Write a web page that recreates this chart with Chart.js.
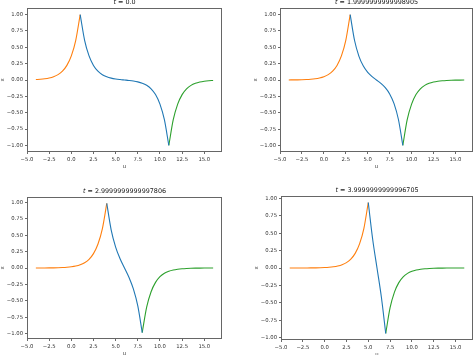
<!DOCTYPE html>
<html><head><meta charset="utf-8">
<script src="https://cdn.jsdelivr.net/npm/chart.js@4/dist/chart.umd.min.js"></script>
<style>
html,body{margin:0;padding:0;background:#fff;}
#wrap{position:relative;width:474px;height:355px;overflow:hidden;background:#fff;}
canvas{position:absolute;left:0;top:0;}
</style></head><body>
<div id="wrap">
<canvas id="c0" width="474" height="355"></canvas>
<canvas id="c1" width="474" height="355"></canvas>
<canvas id="c2" width="474" height="355"></canvas>
<canvas id="c3" width="474" height="355"></canvas>
</div>
<script>
// ---- data ----
const xGrid = [-4,-3.5,-3,-2.5,-2,-1.5,-1,-0.5,0,0.5,1,1.5,2,2.5,3,3.5,4,4.5,5,5.5,6,6.5,7,7.5,8,8.5,9,9.5,10,10.5,11,11.5,12,12.5,13,13.5,14,14.5,15,15.5,16];
const u_t0 = [0.0067,0.0111,0.0183,0.0302,0.0498,0.0821,0.1353,0.2231,0.3679,0.6065,1.0,
  0.6065,0.3678,0.2229,0.1350,0.0815,0.0489,0.0287,0.0158,0.0070,0.0,-0.0070,-0.0158,-0.0287,-0.0489,-0.0815,-0.1350,-0.2229,-0.3678,-0.6065,-1.0,
  -0.6065,-0.3679,-0.2231,-0.1353,-0.0821,-0.0498,-0.0302,-0.0183,-0.0111,-0.0067];
const u_t2 = [0.0009,0.0015,0.0025,0.0041,0.0067,0.0111,0.0183,0.0302,0.0496,0.0819,0.1350,0.2225,0.3670,0.6050,0.998,
  0.6024,0.3612,0.2120,0.1170,0.0519,0.0,-0.0519,-0.1170,-0.2120,-0.3612,-0.6024,-0.998,
  -0.6050,-0.3670,-0.2225,-0.1350,-0.0819,-0.0496,-0.0302,-0.0183,-0.0111,-0.0067,-0.0041,-0.0025,-0.0015,-0.0009];
const u_t3 = [0.0003,0.0006,0.0009,0.0015,0.0025,0.0041,0.0066,0.0109,0.0180,0.0296,0.0489,0.0806,0.1328,0.2190,0.3612,0.5954,0.9817,
  0.5763,0.3181,0.1410,0.0,-0.1410,-0.3181,-0.5763,-0.9817,
  -0.5954,-0.3612,-0.2190,-0.1328,-0.0806,-0.0489,-0.0296,-0.0180,-0.0109,-0.0066,-0.0041,-0.0025,-0.0015,-0.0009,-0.0006,-0.0003];
const u_t4 = [0.0001,0.0002,0.0003,0.0005,0.0009,0.0014,0.0023,0.0038,0.0063,0.0104,0.0172,0.0284,0.0468,0.0772,0.1272,0.2097,0.3458,0.5701,0.9400,
  0.4168,0.0,-0.4168,-0.9400,
  -0.5701,-0.3458,-0.2097,-0.1272,-0.0772,-0.0468,-0.0284,-0.0172,-0.0104,-0.0063,-0.0038,-0.0023,-0.0014,-0.0009,-0.0005,-0.0003,-0.0002,-0.0001];
const seriesList = [u_t0, u_t2, u_t3, u_t4];
const peakX = [1, 3, 4, 5];
const troughX = [11, 9, 8, 7];
const timeLabels = ["0.0", "1.9999999999998905", "2.9999999999997806", "3.9999999999996705"];
const xTicks = [-5, -2.5, 0, 2.5, 5, 7.5, 10, 12.5, 15];
const yTicks = [-1, -0.75, -0.5, -0.25, 0, 0.25, 0.5, 0.75, 1];
const xRange = [-5, 17];
const yHalfRange = [1.1, 1.098, 1.08, 1.034];

// ---- layout / style ----
const boxes = [[27,8,222,152],[280,8,473,152],[27,197,222,339],[281,196,473,340]];
const YW = 26, XH = 14, W = 474, H = 355;
const C_BLUE = '#1f77b4', C_ORANGE = '#ff7f0e', C_GREEN = '#2ca02c';
const FONT = '"DejaVu Sans", sans-serif';
const minus = s => s.replace('-', '\u2212');

function seg(ys, lo, hi) {
  const pts = [];
  xGrid.forEach((x, i) => { if (x >= lo && x <= hi) pts.push({x: x, y: ys[i]}); });
  return pts;
}

function makeChart(idx) {
  const [L, T, R, B] = boxes[idx];
  const ys = seriesList[idx];
  const ds = (data, color) => ({data, borderColor: color, borderWidth: 1.1, pointRadius: 0,
    fill: false, cubicInterpolationMode: 'monotone'});
  const decor = {
    id: 'decor' + idx,
    afterDraw(chart) {
      const ctx = chart.ctx, ca = chart.chartArea;
      ctx.save();
      ctx.strokeStyle = '#666'; ctx.lineWidth = 1;
      ctx.strokeRect(ca.left + 0.5, ca.top + 0.5, ca.right - ca.left - 1, ca.bottom - ca.top - 1);
      // title
      const cx = (ca.left + ca.right) / 2, by = ca.top - 4;
      ctx.fillStyle = '#111'; ctx.textBaseline = 'alphabetic';
      const fI = 'italic 6.4px ' + FONT, fN = '6.4px ' + FONT;
      ctx.font = fI; const wt = ctx.measureText('t').width;
      const rest = ' = ' + timeLabels[idx];
      ctx.font = fN; const wr = ctx.measureText(rest).width;
      let x0 = cx - (wt + wr) / 2;
      ctx.font = fI; ctx.textAlign = 'left'; ctx.fillText('t', x0, by);
      ctx.font = fN; ctx.fillText(rest, x0 + wt, by);
      // axis labels
      ctx.font = '5.3px ' + FONT; ctx.fillStyle = '#333';
      ctx.textAlign = 'center'; ctx.textBaseline = 'middle';
      ctx.fillText('u', cx, ca.bottom + 14.5);
      ctx.translate(ca.left - 24, (ca.top + ca.bottom) / 2);
      ctx.rotate(-Math.PI / 2);
      ctx.fillText('x', 0, 0);
      ctx.restore();
    }
  };
  const gridOpt = {display: true, drawOnChartArea: false, drawTicks: true, tickLength: 2, color: '#444', lineWidth: 0.8};
  const tickFont = {family: FONT, size: 5.3};
  return new Chart(document.getElementById('c' + idx), {
    type: 'line',
    data: {datasets: [
      ds(seg(ys, peakX[idx], troughX[idx]), C_BLUE),
      ds(seg(ys, -Infinity, peakX[idx]), C_ORANGE),
      ds(seg(ys, troughX[idx], Infinity), C_GREEN)
    ]},
    options: {
      responsive: false, animation: false, devicePixelRatio: 1,
      layout: {padding: {left: L - YW, top: T, right: W - R, bottom: H - B - XH}},
      plugins: {legend: {display: false}, tooltip: {enabled: false}, title: {display: false}},
      scales: {
        x: {type: 'linear', min: xRange[0], max: xRange[1],
          afterBuildTicks: s => { s.ticks = xTicks.map(v => ({value: v})); },
          afterFit: s => { s.height = XH; s.paddingLeft = 0; s.paddingRight = 0; s.paddingTop = 0; s.paddingBottom = 0; },
          grid: gridOpt, border: {display: false},
          ticks: {font: tickFont, color: '#333', padding: 2, maxRotation: 0, autoSkip: false,
            callback: v => minus(Number(v).toFixed(1))}},
        y: {type: 'linear', min: -yHalfRange[idx], max: yHalfRange[idx],
          afterBuildTicks: s => { s.ticks = yTicks.map(v => ({value: v})); },
          afterFit: s => { s.width = YW; s.paddingLeft = 0; s.paddingRight = 0; s.paddingTop = 0; s.paddingBottom = 0; },
          grid: gridOpt, border: {display: false},
          ticks: {font: tickFont, color: '#333', padding: 2, autoSkip: false,
            callback: v => minus(Number(v).toFixed(2))}}
      }
    },
    plugins: [decor]
  });
}
[0, 1, 2, 3].forEach(makeChart);
</script>
</body></html>
